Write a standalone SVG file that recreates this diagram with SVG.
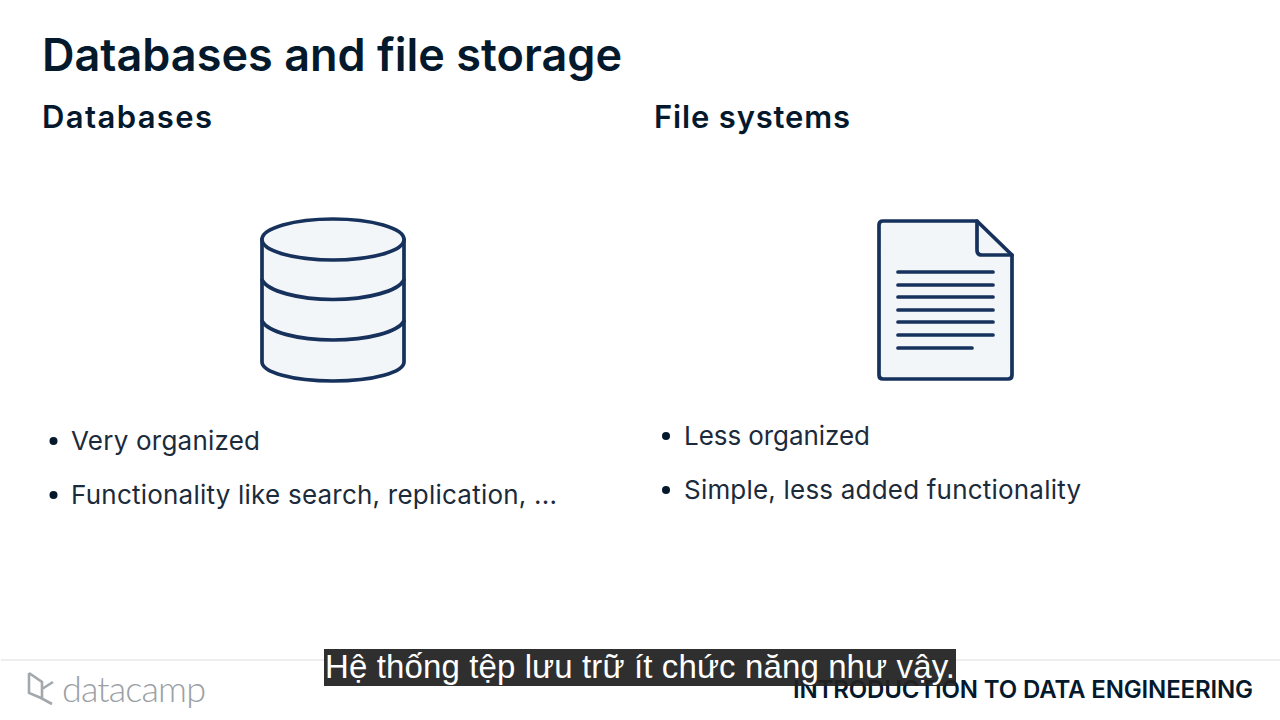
<svg xmlns="http://www.w3.org/2000/svg" width="1280" height="720" viewBox="0 0 1280 720">
<style>
text{font-family:"Inter","Liberation Sans",sans-serif;fill:#05192d}
.h1{font-size:45px;font-weight:600}
.h2{font-size:31px;font-weight:600}
.b{font-size:26px;font-weight:400;fill:#1b2b3b}
.dot{fill:#05192d}
.ico{fill:#f3f6f8;stroke:#16325c;stroke-width:3.7;stroke-linejoin:round;stroke-linecap:round}
.ln{fill:none;stroke:#16325c;stroke-width:3.7;stroke-linecap:round;stroke-linejoin:round}
</style>
<rect width="1280" height="720" fill="#ffffff"/>
<text class="h1" x="42" y="71" textLength="580" lengthAdjust="spacing">Databases and file storage</text>
<text class="h2" x="42" y="128" textLength="170" lengthAdjust="spacing">Databases</text>
<text class="h2" x="654" y="128" textLength="196" lengthAdjust="spacing">File systems</text>
<g id="database-icon">
<path class="ico" d="M262 239V362C262 372 292 381 333 381C374 381 404 372 404 362V239Z"/>
<ellipse class="ico" cx="333" cy="239.500" rx="71" ry="20.500"/>
<path class="ln" d="M262 280C268 291 298 299.500 333 299.500C368 299.500 398 291 404 280"/>
<path class="ln" d="M262 321C268 332 298 340 333 340C368 340 398 332 404 321"/>
</g>
<g id="file-icon">
<path class="ico" d="M883 221H977L1012 255V375Q1012 379 1008 379H883Q879 379 879 375V225Q879 221 883 221Z"/>
<path class="ln" d="M977 221V250Q977 255 982 255H1012"/>
<path class="ln" d="M898 272H993M898 285H993M898 297H993M898 310H993M898 322H993M898 335H993M898 348H972"/>
</g>
<g id="databases-list">
<circle class="dot" cx="53.500" cy="441" r="4"/>
<text class="b" x="71" y="450" textLength="189" lengthAdjust="spacing">Very organized</text>
<circle class="dot" cx="53.500" cy="495" r="4"/>
<text class="b" x="71" y="504" textLength="486" lengthAdjust="spacing">Functionality like search, replication, ...</text>
</g>
<g id="files-list">
<circle class="dot" cx="666" cy="436" r="4"/>
<text class="b" x="684" y="445" textLength="186" lengthAdjust="spacing">Less organized</text>
<circle class="dot" cx="666" cy="490" r="4"/>
<text class="b" x="684" y="499" textLength="397" lengthAdjust="spacing">Simple, less added functionality</text>
</g>
<g id="footer">
<line x1="1" y1="660" x2="1280" y2="660" stroke="#e8e8e6" stroke-width="1.500"/>
<path d="M29 673V693L41 698L52 704M29 673L42 682V698M42 689L53 682" fill="none" stroke="#a3a8ac" stroke-width="2.600"/>
<text x="62" y="702" textLength="144" lengthAdjust="spacing" style="font-family:'Lato','Liberation Sans',sans-serif;font-size:36px;font-weight:300;fill:#9ba0a4">datacamp</text>
<text x="793" y="698" textLength="460" lengthAdjust="spacing" style="font-size:24px;font-weight:600">INTRODUCTION TO DATA ENGINEERING</text>
</g>
<g id="caption">
<rect x="324" y="649" width="632" height="37" fill="#222222" fill-opacity="0.94"/>
<text x="325" y="678" textLength="630" lengthAdjust="spacing" style="font-family:'Liberation Sans',Arial,sans-serif;font-size:33px;fill:#ffffff">Hệ thống tệp lưu trữ ít chức năng như vậy.</text>
</g>
</svg>
